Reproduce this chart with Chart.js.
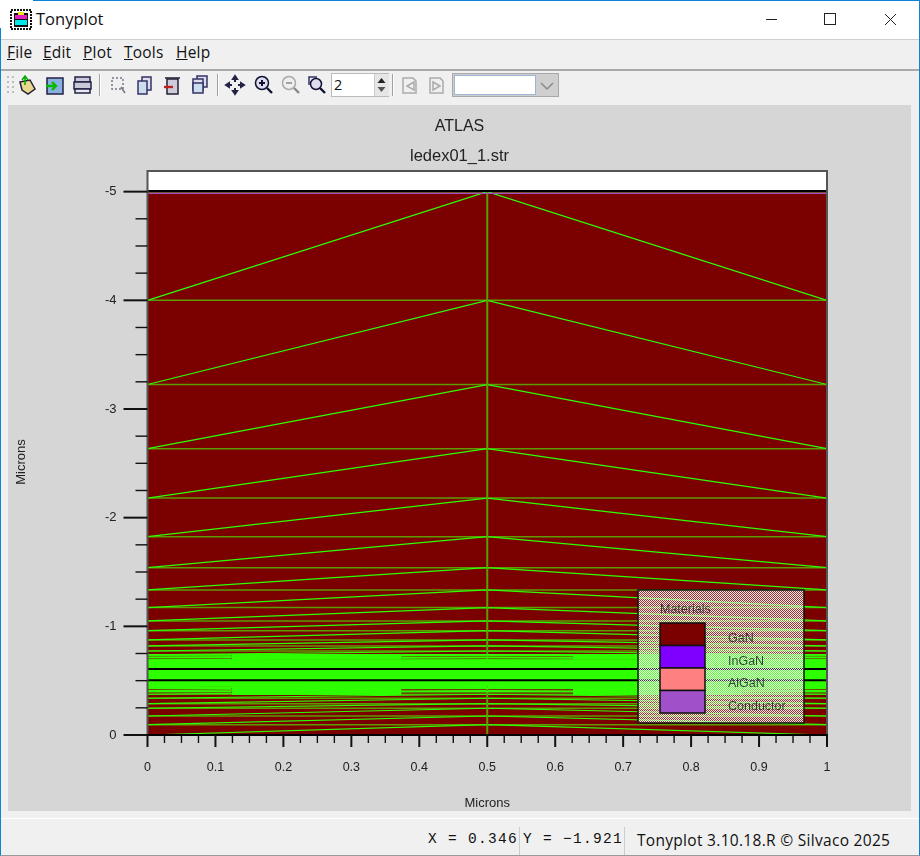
<!DOCTYPE html>
<html><head><meta charset="utf-8">
<script src="https://cdn.jsdelivr.net/npm/chart.js@4"></script>
<style>
html,body{margin:0;padding:0;width:920px;height:856px;overflow:hidden;background:#f0f0f0;font-family:"Open Sans","Noto Sans",sans-serif;color:#111}
.abs{position:absolute}
#titlebar{left:0;top:0;width:920px;height:40px;background:#fff;border-bottom:1px solid #d0d0d0;box-sizing:border-box}
#menu{left:0;top:40px;width:920px;height:29px;background:#f0f0f0;border-bottom:2px solid #a9a9a9;box-sizing:content-box}
#menu span{position:absolute;top:1px;font-size:15.5px;letter-spacing:.2px}
#tool{left:0;top:71px;width:920px;height:28px;background:#f0f0f0}
.sep{position:absolute;top:74px;width:1px;height:22px;background:#a0a0a0;border-right:1px solid #fff}
#panel{left:8px;top:105px;width:903px;height:706px;background:#d6d6d6}
#status{left:0;top:818px;width:920px;height:38px;background:#f0f0f0;border-top:1px solid #fff;box-sizing:border-box}
.st{position:absolute;top:12px;font-size:15.5px;letter-spacing:.3px;white-space:pre}
.mono{font-family:"Liberation Mono","DejaVu Sans Mono",monospace;font-size:14.5px;letter-spacing:1.3px}
</style></head>
<body>
<div class="abs" id="titlebar">
 <svg class="abs" style="left:10px;top:9px" width="22" height="21" viewBox="0 0 22 21"><rect x="1" y="1" width="20" height="19" fill="#fff" stroke="#111" stroke-width="2" stroke-dasharray="2 1"/><rect x="4" y="4" width="14" height="14" fill="#111"/><rect x="5" y="6" width="12" height="4" fill="#e020c0"/><rect x="8" y="3" width="6" height="3" fill="#f0e020"/><rect x="5" y="11" width="12" height="5" fill="#00e8e8"/></svg>
 <div class="abs" style="left:36px;top:7px;font-size:16.5px">Tonyplot</div>
 <svg class="abs" style="left:760px;top:9px" width="150" height="20" fill="none" stroke="#222" stroke-width="1"><path d="M6 10.5H17"/><rect x="64.5" y="4.5" width="11" height="11"/><path d="M125 5L136 16M136 5L125 16"/></svg>
</div>
<div class="abs" id="menu">
 <span style="left:7px"><u>F</u>ile</span><span style="left:43px"><u>E</u>dit</span><span style="left:83px"><u>P</u>lot</span><span style="left:124px"><u>T</u>ools</span><span style="left:176px"><u>H</u>elp</span>
</div>
<div class="abs" id="tool"></div>
<svg class="abs" style="left:0;top:70px" width="560" height="30" fill="none" stroke-width="1.5">
 <path d="M8 6v18M13 6v18" stroke="#aaa" stroke-dasharray="2 3"/>
 <path d="M20 12l10-2 5 9-7 5-6-4z" fill="#e8d890" stroke="#223"/><path d="M25 15v-8M22 10l3-4 3 4" stroke="#0a0"/>
 <rect x="47" y="8" width="16" height="16" fill="#8ab0e0" stroke="#224"/><path d="M46 16h9M52 12l4 4-4 4" stroke="#0b0" stroke-width="2.4"/>
 <rect x="75" y="7" width="15" height="5" fill="#c8c8d8" stroke="#224"/><rect x="74" y="12" width="17" height="7" fill="#c8c8d8" stroke="#224"/><rect x="75" y="19" width="15" height="4" fill="#e8e8f0" stroke="#224"/>
 <rect x="112" y="8" width="11" height="11" stroke="#778" stroke-dasharray="2 2"/><path d="M121 17l4 6" stroke="#778"/>
 <rect x="142" y="7" width="9" height="13" fill="#dde" stroke="#336"/><rect x="138" y="11" width="9" height="13" fill="#cde" stroke="#336"/>
 <rect x="167" y="9" width="11" height="15" fill="#ccd" stroke="#223"/><path d="M165 8h15" stroke="#223"/><path d="M164 17h9" stroke="#c02020" stroke-width="2.4"/>
 <rect x="197" y="6" width="10" height="11" fill="#dde" stroke="#336"/><rect x="193" y="9" width="10" height="11" fill="#dde" stroke="#336"/><rect x="193" y="13" width="10" height="10" fill="#cde" stroke="#336"/>
 <path d="M235 7v5M235 18v5M227 15h5M238 15h5M235 6l-2 3h4zM235 24l-2-3h4zM226 15l3-2v4zM244 15l-3-2v4z" stroke="#224" stroke-width="2"/>
 <circle cx="262" cy="13" r="6.5" fill="#dde" stroke="#113"/><path d="M259 13h6M262 10v6" stroke="#113" stroke-width="2"/><path d="M267 18l5 5" stroke="#113" stroke-width="2.4"/>
 <circle cx="289" cy="13" r="6.5" fill="#eee" stroke="#aaa"/><path d="M286 13h6" stroke="#888"/><path d="M294 18l5 5" stroke="#888" stroke-width="2.4"/>
 <path d="M309 15v-8h8" stroke="#336"/><circle cx="316" cy="14" r="5.5" fill="#dde" stroke="#113"/><path d="M320 18l5 5" stroke="#113" stroke-width="2.4"/>
 <path d="M403 8h10l3 3v12h-13z" stroke="#aaa"/><path d="M414 12l-7 4 7 4z" stroke="#aaa"/>
 <path d="M430 8h10l3 3v12h-13z" stroke="#aaa"/><path d="M433 12l7 4-7 4z" stroke="#aaa"/>
</svg>
<div class="sep" style="left:99px"></div><div class="sep" style="left:217px"></div><div class="sep" style="left:392px"></div>
<div class="abs" style="left:331px;top:73px;width:58px;height:24px;background:#fff;border:1px solid #bbb;box-sizing:border-box;font-size:14.5px;padding-left:2px;line-height:22px">2</div>
<div class="abs" style="left:374px;top:74px;width:14px;height:22px;background:#e6e6e6;border-left:1px solid #ccc"></div>
<svg class="abs" style="left:375px;top:76px" width="13" height="18"><path d="M6.5 2l4 5h-8z" fill="#222"/><path d="M6.5 16l4-5h-8z" fill="#555"/></svg>
<div class="abs" style="left:452px;top:73px;width:107px;height:24px;background:#cfcfcf;box-sizing:border-box;border:1px solid #a8a8a8"></div>
<div class="abs" style="left:454px;top:75px;width:82px;height:20px;background:#fff;border:1px solid #9db4d8;box-sizing:border-box"></div>
<svg class="abs" style="left:538px;top:78px" width="18" height="14" fill="none" stroke="#8a8a8a" stroke-width="1.5"><path d="M3 5l6 6 6-6"/></svg>
<div class="abs" id="panel"><canvas id="c" width="903" height="706" style="display:block;width:903px;height:706px"></canvas></div>
<div class="abs" id="status">
 <div class="st mono" style="left:428px;top:12px">X = 0.346</div>
 <div class="abs" style="left:519px;top:8px;width:1px;height:28px;background:#ccc"></div>
 <div class="st mono" style="left:523px;top:12px">Y = −1.921</div>
 <div class="abs" style="left:624px;top:8px;width:1px;height:28px;background:#ccc"></div>
 <div class="st" style="left:637px;top:10px">Tonyplot 3.10.18.R © Silvaco 2025</div>
</div>
<div class="abs" style="left:0;top:0;width:920px;height:856px;box-sizing:border-box;border:1px solid #0a84d8;border-bottom-color:#9a9a9a;pointer-events:none;clip-path:polygon(33px 0,100% 0,100% 100%,0 100%,0 28px,33px 28px)"></div>
<script>
const chartTitle = "ATLAS";
const fileName = "ledex01_1.str";
const axisLabel = "Microns";
const xMajorTicks = [0,0.1,0.2,0.3,0.4,0.5,0.6,0.7,0.8,0.9,1];
const xMinorTicks = [0.025,0.05,0.075,0.125,0.15,0.175,0.225,0.25,0.275,0.325,0.35,0.375,0.425,0.45,0.475,0.525,0.55,0.575,0.625,0.65,0.675,0.725,0.75,0.775,0.825,0.85,0.875,0.925,0.95,0.975];
const yMajorTicks = [-5,-4,-3,-2,-1,0];
const yMinorTicks = [-4.75,-4.5,-4.25,-3.75,-3.5,-3.25,-2.75,-2.5,-2.25,-1.75,-1.5,-1.25,-0.75,-0.5,-0.25];
const yTop = -5.19;
const deviceTop = -5;
const meshLevels = [-5,-4,-3.225,-2.635,-2.18,-1.825,-1.54,-1.335,-1.173,-1.05,-0.96,-0.875,-0.82,-0.773,-0.737,-0.715,-0.69,-0.608,-0.503,-0.445,-0.438,-0.408,-0.375,-0.338,-0.288,-0.246,-0.175,-0.095,0];
const meshCenterX = 0.5;
const boundaryLevels = [-0.608,-0.503];
const topBoundary = -5.005;
const conductorLine = -4.985;
const solidBands = [[0,1,-0.696,-0.447],[0.124,0.374,-0.746,-0.696],[0.626,0.876,-0.746,-0.696],[0.124,0.374,-0.447,-0.368],[0.626,0.876,-0.447,-0.368]];
const stripeSpans = [[0,0.124],[0.374,0.626],[0.876,1]];
const stripeRows = [[-0.746,-0.73],[-0.72,-0.704],[-0.44,-0.42],[-0.405,-0.39]];
const materialNames = ["GaN","InGaN","AlGaN","Conductor"];
const materialColors = ["#7b0000","#8000ff","#ff8080","#a050c8"];
const legendTitle = "Materials";
const green = "#2dff00", olive = "#5c9c00";

const horiz = [], diag = [];
meshLevels.forEach((y,i)=>{
  horiz.push({x:0,y},{x:1,y},{x:NaN,y:NaN});
  if(i>0){const up=meshLevels[i-1];diag.push({x:0,y},{x:meshCenterX,y:up},{x:1,y},{x:NaN,y:NaN});}
});
const line=(data,color,w,order,extra)=>Object.assign({data,borderColor:color,borderWidth:w,pointRadius:0,showLine:true,fill:false,order,spanGaps:false},extra||{});
const rect=(b,order)=>line([{x:b[0],y:b[2]},{x:b[1],y:b[2]}],green,0,order,{fill:{value:b[3]},backgroundColor:green});
const stripeBands=[];
stripeSpans.forEach(s=>stripeRows.forEach(r=>stripeBands.push([s[0],s[1],r[0],r[1]])));
const datasets=[
  line([{x:0,y:deviceTop},{x:1,y:deviceTop}],materialColors[0],0,100,{fill:'origin',backgroundColor:materialColors[0]}),
  line(horiz,olive,1.5,90),
  line(diag,green,1.2,80),
  line([{x:meshCenterX,y:deviceTop},{x:meshCenterX,y:0}],olive,2,70),
  ...solidBands.map(b=>rect(b,60)),
  ...stripeBands.map(b=>rect(b,55)),
  ...boundaryLevels.map((y,i)=>line([{x:0,y},{x:1,y}],"#000",2,40-i)),
  line([{x:0,y:conductorLine},{x:1,y:conductorLine}],materialColors[3],1.2,30),
  line([{x:0,y:topBoundary},{x:1,y:topBoundary}],"#000",2,29)
];

const frame={id:'frame',
  beforeDatasetsDraw(ch){const {ctx,chartArea:a}=ch;ctx.save();ctx.fillStyle='#fff';ctx.fillRect(a.left,a.top,a.width,a.height);ctx.restore();},
  afterDraw(ch){
    const {ctx,chartArea:a,scales:{x,y}}=ch;
    ctx.save();
    ctx.strokeStyle='#555';ctx.lineWidth=2;
    ctx.beginPath();ctx.moveTo(a.left,a.bottom);ctx.lineTo(a.left,a.top);ctx.lineTo(a.right,a.top);ctx.lineTo(a.right,a.bottom);ctx.stroke();
    ctx.strokeStyle='#000';ctx.beginPath();ctx.moveTo(a.left-1,a.bottom);ctx.lineTo(a.right+1,a.bottom);ctx.stroke();
    ctx.strokeStyle='#111';
    x.ticks.forEach(t=>{const p=x.getPixelForValue(t.value),maj=xMajorTicks.includes(t.value);ctx.lineWidth=maj?2:1.4;ctx.beginPath();ctx.moveTo(p,a.bottom);ctx.lineTo(p,a.bottom+(maj?12:8));ctx.stroke();});
    y.ticks.forEach(t=>{const p=y.getPixelForValue(t.value),maj=yMajorTicks.includes(t.value);ctx.lineWidth=maj?2:1.4;ctx.beginPath();ctx.moveTo(a.left,p);ctx.lineTo(a.left-(maj?24:12),p);ctx.stroke();});
    // y axis label
    ctx.save();ctx.translate(13,357);ctx.rotate(-Math.PI/2);ctx.font='13px "Liberation Sans"';ctx.fillStyle='#222';ctx.textAlign='center';ctx.textBaseline='middle';ctx.fillText(axisLabel,0,0);ctx.restore();
    // legend
    const L=630,T=485,W=166,H=133;
    const pc=document.createElement('canvas');pc.width=pc.height=2;const pg=pc.getContext('2d');
    pg.fillStyle='rgba(255,255,255,.9)';pg.fillRect(0,0,1,1);pg.fillRect(1,1,1,1);
    pg.fillStyle='rgba(255,255,255,.2)';pg.fillRect(1,0,1,1);pg.fillRect(0,1,1,1);
    ctx.fillStyle=ctx.createPattern(pc,'repeat');ctx.fillRect(L,T,W,H);
    ctx.strokeStyle='#111';ctx.lineWidth=1.5;ctx.strokeRect(L,T,W,H);
    materialColors.forEach((c,i)=>{ctx.fillStyle=c;ctx.fillRect(652,518+i*22.5,45,22.5);ctx.strokeRect(652,518+i*22.5,45,22.5);});
    ctx.font='12.5px "Liberation Sans"';ctx.fillStyle='rgba(30,30,40,.85)';ctx.textBaseline='middle';ctx.textAlign='left';
    ctx.fillText(legendTitle,652,504.5);
    materialNames.forEach((n,i)=>ctx.fillText(n,720,533.5+i*22.6));
    ctx.restore();
  }};

new Chart(document.getElementById('c'),{
  type:'scatter',
  data:{datasets},
  plugins:[frame],
  options:{
    responsive:false,animation:false,events:[],devicePixelRatio:1,
    layout:{padding:0},
    plugins:{legend:{display:false},tooltip:{enabled:false},
      title:{display:true,text:chartTitle,color:'#222',font:{family:'"Liberation Sans"',size:16,weight:'normal'},padding:{top:12.4,bottom:3}},
      subtitle:{display:true,text:fileName,color:'#222',font:{family:'"Liberation Sans"',size:16.5,weight:'normal'},padding:{top:6.5,bottom:5.1}}
    },
    scales:{
      x:{type:'linear',min:0,max:1,
        afterFit(s){s.height=76;},
        afterBuildTicks(s){s.ticks=[...xMajorTicks,...xMinorTicks].sort((a,b)=>a-b).map(value=>({value}));},
        grid:{display:false,drawTicks:false},border:{display:false},
        title:{display:true,text:axisLabel,color:'#222',font:{family:'"Liberation Sans"',size:13},padding:{top:0,bottom:0}},
        ticks:{autoSkip:false,maxRotation:0,minRotation:0,padding:25,color:'#222',font:{family:'"Liberation Sans"',size:12.5},callback:v=>xMajorTicks.includes(v)?String(v):''}},
      y:{type:'linear',reverse:true,min:yTop,max:0,
        afterFit(s){s.width=139.5;},
        afterBuildTicks(s){s.ticks=[...yMajorTicks,...yMinorTicks].sort((a,b)=>a-b).map(value=>({value}));},
        grid:{display:false,drawTicks:false},border:{display:false},
        ticks:{autoSkip:false,padding:31,color:'#222',font:{family:'"Liberation Sans"',size:13},callback:v=>yMajorTicks.includes(v)?String(v):''}},
      rightGutter:{type:'linear',position:'right',
        afterFit(s){s.width=84;},
        afterBuildTicks(s){s.ticks=[];},
        grid:{display:false,drawTicks:false},border:{display:false},ticks:{display:false}}
    }
  }
});
</script>
</body></html>
